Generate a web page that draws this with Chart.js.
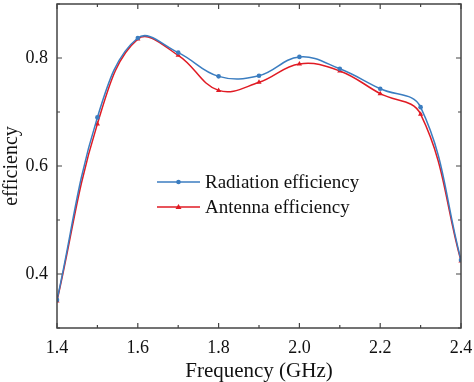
<!DOCTYPE html>
<html>
<head>
<meta charset="utf-8">
<script src="https://cdn.jsdelivr.net/npm/chart.js@4/dist/chart.umd.min.js"></script>
<style>
  html,body{margin:0;padding:0;background:#fff;}
  #wrap{width:474px;height:382px;position:relative;}
</style>
</head>
<body>
<div id="wrap"><canvas id="c" width="474" height="382"></canvas></div>
<script>
const frequencies = [1.4, 1.5, 1.6, 1.7, 1.8, 1.9, 2.0, 2.1, 2.2, 2.3, 2.4];
const radiationEfficiency = [0.352, 0.690, 0.837, 0.810, 0.766, 0.767, 0.802, 0.780, 0.743, 0.709, 0.426];
const antennaEfficiency  = [0.350, 0.678, 0.835, 0.805, 0.740, 0.755, 0.789, 0.776, 0.734, 0.696, 0.424];
const seriesNames = ['Radiation efficiency', 'Antenna efficiency'];
const xTickLabels = ['1.4', '1.6', '1.8', '2.0', '2.2', '2.4'];
const yTickLabels = ['0.4', '0.6', '0.8'];
const xTitle = 'Frequency (GHz)';
const yTitle = 'efficiency';

const BLUE = '#3b7dc0';
const RED = '#e01b24';
const AXIS = '#444444';
const FONT = "'Liberation Serif', 'DejaVu Serif', serif";

function toPoints(xs, ys){ return xs.map((x,i)=>({x:x, y:ys[i]})); }
function noPad(s){ s.paddingTop = 0; s.paddingBottom = 0; s.paddingLeft = 0; s.paddingRight = 0; }

const framePlugin = {
  id: 'frame',
  afterDraw(chart){
    const ctx = chart.ctx, a = chart.chartArea;
    const xs = chart.scales.x, ys = chart.scales.y;
    ctx.save();
    ctx.strokeStyle = AXIS;
    ctx.lineWidth = 1.5;
    ctx.strokeRect(a.left, a.top, a.right - a.left, a.bottom - a.top);
    ctx.lineWidth = 1.2;
    xs.ticks.forEach(t => {
      const px = xs.getPixelForValue(t.value);
      const major = xTickLabels.includes(t.value.toFixed(1));
      const len = major ? 5 : 3;
      ctx.beginPath();
      ctx.moveTo(px, a.bottom); ctx.lineTo(px, a.bottom - len);
      ctx.moveTo(px, a.top); ctx.lineTo(px, a.top + len);
      ctx.stroke();
    });
    ys.ticks.forEach(t => {
      const py = ys.getPixelForValue(t.value);
      const major = yTickLabels.includes(t.value.toFixed(1));
      const len = major ? 5 : 3;
      ctx.beginPath();
      ctx.moveTo(a.left, py); ctx.lineTo(a.left + len, py);
      ctx.moveTo(a.right, py); ctx.lineTo(a.right - len, py);
      ctx.stroke();
    });
    const items = [
      {name: seriesNames[0], color: BLUE, style: 'circle'},
      {name: seriesNames[1], color: RED, style: 'triangle'}
    ];
    const lx = 157, lw = 43;
    const ly0 = 182, dy = 25;
    ctx.font = "19px " + FONT;
    ctx.textBaseline = 'middle';
    ctx.textAlign = 'left';
    items.forEach((it, i) => {
      const y = ly0 + i*dy;
      ctx.strokeStyle = it.color;
      ctx.lineWidth = 1.5;
      ctx.beginPath(); ctx.moveTo(lx, y); ctx.lineTo(lx + lw, y); ctx.stroke();
      ctx.fillStyle = it.color;
      const cx = lx + lw/2;
      if (it.style === 'circle') {
        ctx.beginPath(); ctx.arc(cx, y, 2.3, 0, Math.PI*2); ctx.fill();
      } else {
        ctx.beginPath(); ctx.moveTo(cx, y-3); ctx.lineTo(cx+3, y+2); ctx.lineTo(cx-3, y+2); ctx.closePath(); ctx.fill();
      }
      ctx.fillStyle = '#111';
      ctx.fillText(it.name, lx + lw + 5, y + 1);
    });
    ctx.restore();
  }
};

new Chart(document.getElementById('c'), {
  type: 'line',
  data: {
    datasets: [
      {
        label: seriesNames[0],
        data: toPoints(frequencies, radiationEfficiency),
        borderColor: BLUE, backgroundColor: BLUE,
        borderWidth: 1.5, tension: 0.4,
        pointStyle: 'circle', pointRadius: 2.3, pointBorderWidth: 0,
      },
      {
        label: seriesNames[1],
        data: toPoints(frequencies, antennaEfficiency),
        borderColor: RED, backgroundColor: RED,
        borderWidth: 1.5, tension: 0.4,
        pointStyle: 'triangle', pointRadius: 3, pointBorderWidth: 0,
      }
    ]
  },
  options: {
    responsive: false,
    animation: false,
    devicePixelRatio: 1,
    layout: {padding: {top: 1, right: 13, left: 0, bottom: 0}},
    plugins: {legend: {display: false}, tooltip: {enabled: false}},
    scales: {
      x: {
        type: 'linear', min: 1.4, max: 2.4,
        ticks: {
          stepSize: 0.1, autoSkip: false, maxRotation: 0, padding: 9,
          color: '#111', font: {family: FONT, size: 18},
          callback: v => { const s = Number(v).toFixed(1); return xTickLabels.includes(s) ? s : ''; }
        },
        grid: {display: false, drawTicks: false},
        border: {display: false},
        title: {display: true, text: xTitle, color: '#111', font: {family: FONT, size: 21, lineHeight: 1}, padding: {top: 0, bottom: 0}},
        afterFit: s => { s.height = 54; noPad(s); }
      },
      y: {
        min: 0.3, max: 0.9,
        ticks: {
          stepSize: 0.1, autoSkip: false, padding: 9,
          color: '#111', font: {family: FONT, size: 18},
          callback: v => { const s = Number(v).toFixed(1); return yTickLabels.includes(s) ? s : ''; }
        },
        grid: {display: false, drawTicks: false},
        border: {display: false},
        title: {display: true, text: yTitle, color: '#111', font: {family: FONT, size: 20, lineHeight: 1}, padding: {top: 2, bottom: 0}},
        afterFit: s => { s.width = 57; noPad(s); }
      }
    }
  },
  plugins: [framePlugin]
});
</script>
</body>
</html>
